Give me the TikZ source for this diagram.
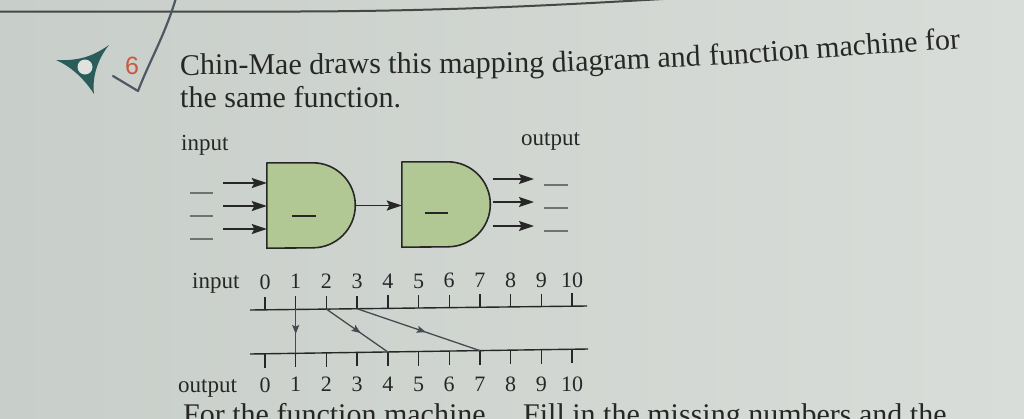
\documentclass[tikz,border=0pt]{standalone}
\usepackage{fontspec}
\setmainfont{Liberation Serif}
\newfontfamily\numsans{Liberation Sans}
\usetikzlibrary{arrows.meta,decorations.markings}
\definecolor{ink}{HTML}{272727}
\definecolor{paperL}{HTML}{C8CEC9}
\definecolor{paperR}{HTML}{D9DDD9}
\definecolor{machinefill}{HTML}{B2C894}
\definecolor{iconteal}{HTML}{2A5C5A}
\definecolor{qred}{HTML}{C85A40}
\definecolor{pen}{HTML}{4D5862}
\definecolor{blank}{HTML}{6E736F}
\definecolor{maparrow}{HTML}{464B52}
\begin{document}
\begin{tikzpicture}[x=1pt,y=-1pt,
  bodytext/.style={font=\fontsize{30}{36}\selectfont, text=ink, inner sep=0pt, anchor=base west},
  labeltext/.style={font=\fontsize{23}{27}\selectfont, text=ink, inner sep=0pt, anchor=base west},
  numtext/.style={font=\fontsize{22}{26}\selectfont, text=ink, inner sep=0pt, anchor=base},
  machinebox/.style={minimum width=88.5pt, minimum height=85pt, inner sep=0pt, draw=none},
  machine/.style={draw=ink, line width=1.6pt, fill=machinefill, line join=round},
  feed/.style={draw=ink, line width=1.7pt, -{Stealth[length=15pt,width=10pt,inset=2.5pt]}},
  blankline/.style={draw=blank, line width=1.4pt},
  machineblank/.style={draw=ink, line width=1.6pt},
  axis/.style={draw=ink, line width=1.4pt},
  maplink/.style={draw=maparrow, line width=1.3pt, postaction=decorate,
    decoration={markings, mark=at position 0.56 with {\arrow{Stealth[length=9pt,width=7pt,inset=1.5pt]}}}},
]
\shade[left color=paperL, right color=paperR] (0,0) rectangle (1024,418);
\useasboundingbox (0,0) rectangle (1024,418);

% top rule of the page
\draw[ink!85, line width=2pt] (0,11.5) -- (300,11.5) .. controls (450,11) and (560,5) .. (680,-2);

% question icon
\fill[iconteal] (56,60) .. controls (78,61) and (92,57) .. (109,45)
  .. controls (97,60) and (92,78) .. (94,94)
  .. controls (85,80) and (72,67) .. (56,60) -- cycle;
\fill[paperR!85!white] (85,67) circle (7.5);
\node[font=\numsans\fontsize{25}{27}\selectfont, text=qred, inner sep=0pt] (qnum) at (132,66) {6};
% pen tick
\draw[pen, line width=2.2pt, line cap=round, line join=round]
  (176,-2) .. controls (165,35) and (150,60) .. (138,91) -- (113,76);

% question text
\node[bodytext, rotate=0.4] (l1a) at (180,75) {Chin-Mae draws this mapping};
\node[bodytext, rotate=2.5] (l1b) at ([xshift=7.5pt]l1a.base east) {diagram and};
\node[bodytext, rotate=4] (l1c) at ([xshift=8pt]l1b.base east) {function machine for};
\node[bodytext] (l2) at (180,107) {the same function.};

% function machine
\node[labeltext] (inlabel) at (181,150) {input};
\node[labeltext] (outlabel) at (521,145) {output};
\node[machinebox] (m1) at (311.25,205.5) {};
\node[machinebox] (m2) at (446.25,204.5) {};
\draw[machine] (m1.north west) -- ([xshift=46pt]m1.north west) arc(-90:90:42.5) -- (m1.south west) -- cycle;
\draw[machine] (m2.north west) -- ([xshift=46pt]m2.north west) arc(-90:90:42.5) -- (m2.south west) -- cycle;
\draw[machineblank] (292,216) -- (316,216);
\draw[machineblank] (425,213) -- (448,213);
\draw[feed] (m1.east) -- (m1.east -| m2.west);
\coordinate (fi1) at (223,183);
\coordinate (fi2) at (223,206);
\coordinate (fi3) at (223,229);
\coordinate (fo1) at (534,179);
\coordinate (fo2) at (534,202);
\coordinate (fo3) at (534,226);
\foreach \k in {1,2,3} {
  \draw[feed] (fi\k) -- (fi\k -| m1.west);
  \draw[feed] ([xshift=2pt]m2.east |- fo\k) -- (fo\k);
}
\draw[blankline] (190,193) -- (213,193);
\draw[blankline] (190,216) -- (213,216);
\draw[blankline] (190,239) -- (213,239);
\draw[blankline] (544,185) -- (568,185);
\draw[blankline] (544,208) -- (568,208);
\draw[blankline] (544,231) -- (568,231);

% mapping diagram
\node[labeltext] (minlabel) at (192,288) {input};
\node[labeltext] (moutlabel) at (178,392) {output};
\coordinate (iaxL) at (250,310);
\coordinate (iaxR) at (587,306);
\coordinate (oaxL) at (250,354);
\coordinate (oaxR) at (588,349);
\draw[axis] (iaxL) -- (iaxR);
\draw[axis] (oaxL) -- (oaxR);
\foreach \n in {0,...,10} {
  \pgfmathsetmacro{\xx}{265+30.7*\n}
  \pgfmathsetmacro{\yi}{309.82-0.3644*\n}
  \pgfmathsetmacro{\yo}{353.78-0.454*\n}
  \pgfmathsetmacro{\yni}{289-0.2*\n}
  \pgfmathsetmacro{\yno}{392-0.1*\n}
  \coordinate (ib\n) at (\xx,\yi);
  \coordinate (ob\n) at (\xx,\yo);
  \draw[axis] (ib\n) -- ++(0,-13);
  \draw[axis] (ob\n) -- ++(0,14);
  \node[numtext] (in\n) at (\xx,\yni) {\n};
  \node[numtext] (on\n) at (\xx,\yno) {\n};
}
\draw[maplink] (ib1) -- (ob1);
\draw[maplink] (ib2) -- (ob4);
\draw[maplink] (ib3) -- (ob7);

% next question line, cut by the bottom edge as in the photo
\node[bodytext] (b1) at (183,424) {For the function machine.};
\node[bodytext] (b2) at (523,424) {Fill in the missing numbers and the};
\end{tikzpicture}
\end{document}
